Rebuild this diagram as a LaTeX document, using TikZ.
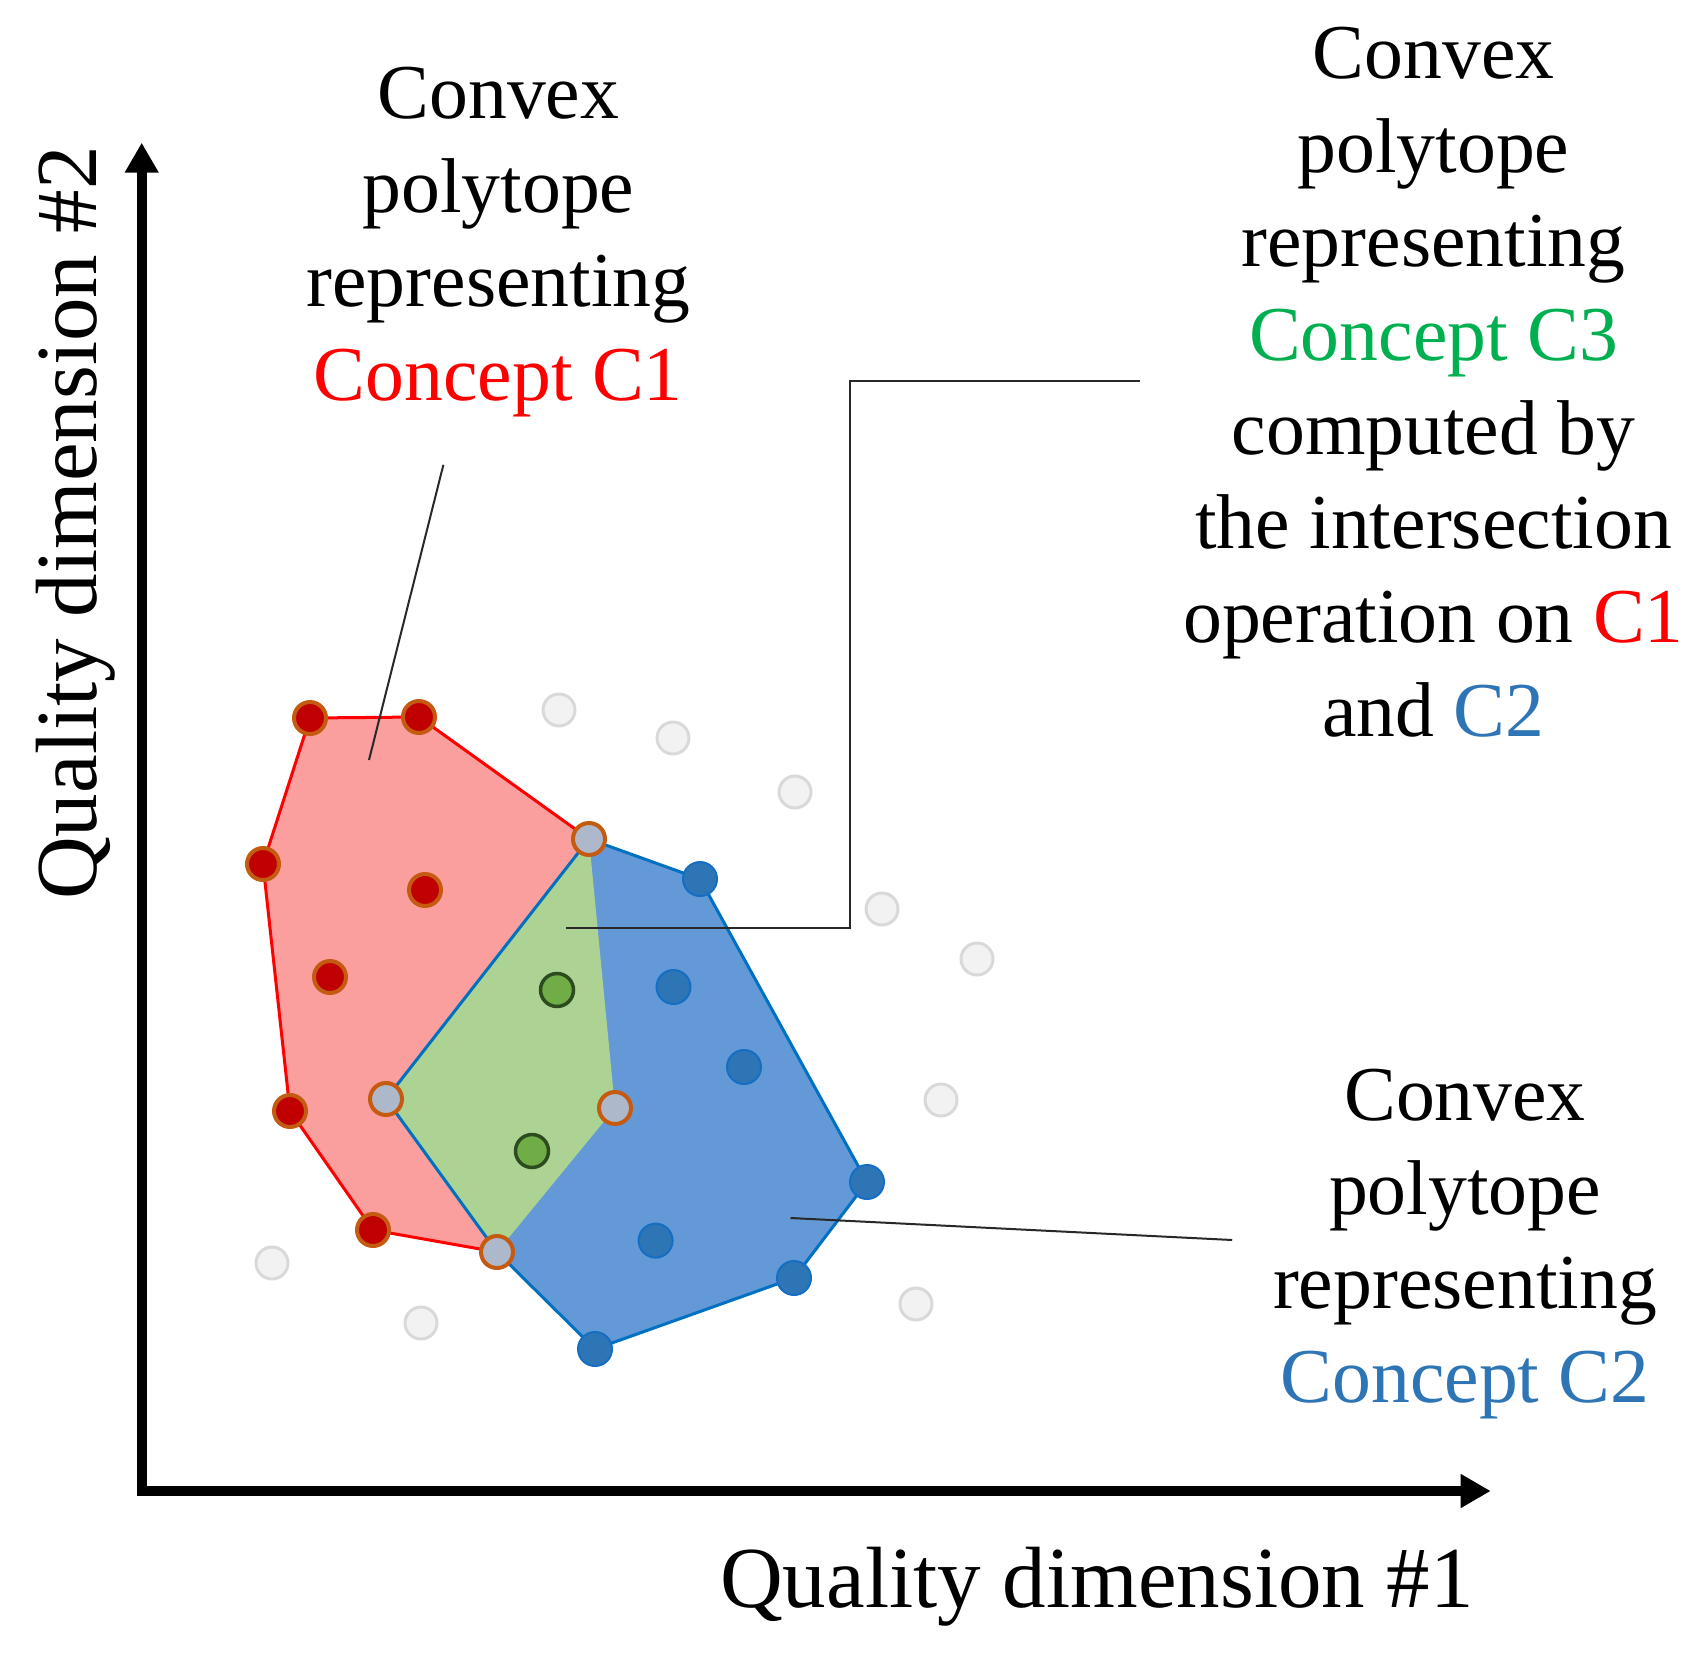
\documentclass[tikz,border=0pt]{standalone}
\usepackage{fontspec}
\setmainfont{Liberation Serif}
\usetikzlibrary{arrows.meta}
\definecolor{cRedTxt}{RGB}{255,0,0}
\definecolor{cGreenTxt}{RGB}{0,176,80}
\definecolor{cBlueTxt}{RGB}{46,117,182}
\definecolor{cRedFill}{RGB}{250,158,158}
\definecolor{cGreenFill}{RGB}{172,210,148}
\definecolor{cBlueFill}{RGB}{100,153,215}
\definecolor{cRedEdge}{RGB}{255,0,0}
\definecolor{cBlueEdge}{RGB}{0,112,192}
\definecolor{cRedDot}{RGB}{192,0,0}
\definecolor{cRing}{RGB}{197,90,17}
\definecolor{cGrayDot}{RGB}{173,185,202}
\definecolor{cBlueDot}{RGB}{46,117,182}
\definecolor{cBlueRing}{RGB}{20,110,195}
\definecolor{cGreenDot}{RGB}{112,173,71}
\definecolor{cGreenRing}{RGB}{45,75,30}
\definecolor{cLight}{RGB}{242,242,242}
\definecolor{cLightRing}{RGB}{217,217,217}
\definecolor{cLeader}{RGB}{40,40,40}
\begin{document}
\begin{tikzpicture}[x=0.02cm,y=-0.02cm,
  dotbase/.style={circle,inner sep=0pt,minimum size=0.64cm},
  reddot/.style={dotbase,fill=cRedDot,draw=cRing,line width=0.08cm},
  graydot/.style={dotbase,fill=cGrayDot,draw=cRing,line width=0.08cm},
  bluedot/.style={dotbase,minimum size=0.68cm,fill=cBlueDot,draw=cBlueRing,line width=0.04cm},
  greendot/.style={dotbase,minimum size=0.66cm,fill=cGreenDot,draw=cGreenRing,line width=0.07cm},
  lightdot/.style={dotbase,minimum size=0.64cm,fill=cLight,draw=cLightRing,line width=0.06cm},
  leader/.style={draw=cLeader,line width=0.04cm},
  bodytxt/.style={align=center,anchor=base,inner sep=0pt,font=\fontsize{44.2}{53.5}\selectfont},
  axistxt/.style={anchor=base,inner sep=0pt,font=\fontsize{49.5}{58}\selectfont},
  axisline/.style={line width=0.2cm,miter limit=10}
]
\useasboundingbox (0,0) rectangle (1706,1662);

% polygon vertices
\coordinate (A) at (310,718);
\coordinate (B) at (419,717);
\coordinate (T) at (589,839);
\coordinate (R) at (615,1108);
\coordinate (Bt) at (497,1252);
\coordinate (E) at (373,1230);
\coordinate (F) at (290,1111);
\coordinate (G) at (263,864);
\coordinate (H) at (700,879);
\coordinate (I) at (867,1182);
\coordinate (J) at (794,1278);
\coordinate (K) at (595,1349);
\coordinate (L) at (386,1099);

% C1 polygon
\fill[cRedFill] (A) -- (B) -- (T) -- (R) -- (Bt) -- (E) -- (F) -- (G) -- cycle;
\draw[cRedEdge,line width=0.06cm,line join=round] (A) -- (B) -- (T) -- (R) -- (Bt) -- (E) -- (F) -- (G) -- cycle;
% C2 polygon
\fill[cBlueFill] (T) -- (H) -- (I) -- (J) -- (K) -- (Bt) -- (L) -- cycle;
% C3 polygon
\fill[cGreenFill] (T) -- (R) -- (Bt) -- (L) -- cycle;
\draw[cBlueEdge,line width=0.06cm,line join=round] (T) -- (H) -- (I) -- (J) -- (K) -- (Bt) -- (L) -- cycle;

% axes
\coordinate (O) at (141.7,1491);
\coordinate (Ytip) at (141.7,142.7);
\coordinate (Xtip) at (1490.7,1491);
\draw[axisline,{Triangle[length=0.6cm,width=0.64cm]}-{Triangle[length=0.6cm,width=0.64cm]}] (Ytip) -- (O) -- (Xtip);

% leader lines
\coordinate (l1a) at (443.4,464.8);
\coordinate (l1b) at (369,760);
\draw[leader] (l1a) -- (l1b);
\coordinate (l3a) at (565.8,928);
\coordinate (l3b) at (850.4,928);
\coordinate (l3c) at (850.4,380.5);
\coordinate (l3d) at (1139.7,380.5);
\draw[leader] (l3a) -- (l3b) -- (l3c) -- (l3d);
\coordinate (l2a) at (790.5,1218);
\coordinate (l2b) at (1232.2,1240);
\draw[leader] (l2a) -- (l2b);

% light gray points
\node[lightdot] (g1) at (559,710) {};
\node[lightdot] (g2) at (673,738) {};
\node[lightdot] (g3) at (795,792) {};
\node[lightdot] (g4) at (882,909) {};
\node[lightdot] (g5) at (977,959) {};
\node[lightdot] (g6) at (941,1100) {};
\node[lightdot] (g7) at (916,1304) {};
\node[lightdot] (g8) at (272,1263) {};
\node[lightdot] (g9) at (421,1323) {};

% red points
\node[reddot] (r1) at (A) {};
\node[reddot] (r2) at (B) {};
\node[reddot] (r3) at (G) {};
\node[reddot] (r4) at (425,890) {};
\node[reddot] (r5) at (330,977) {};
\node[reddot] (r6) at (F) {};
\node[reddot] (r7) at (E) {};

% blue points
\node[bluedot] (b1) at (H) {};
\node[bluedot] (b2) at (673.5,987) {};
\node[bluedot] (b3) at (744,1067) {};
\node[bluedot] (b4) at (I) {};
\node[bluedot] (b5) at (655.6,1240.6) {};
\node[bluedot] (b6) at (J) {};
\node[bluedot] (b7) at (K) {};

% green points
\node[greendot] (e1) at (557,990) {};
\node[greendot] (e2) at (532,1151) {};

% intersection vertices
\node[graydot] (v1) at (T) {};
\node[graydot] (v2) at (L) {};
\node[graydot] (v3) at (R) {};
\node[graydot] (v4) at (Bt) {};

% texts (anchor=base is the baseline of the last line)
\node[bodytxt] (t1) at (498.4,400.1) {Convex\\polytope\\representing\\\textcolor{cRedTxt}{Concept C1}};
\node[bodytxt] (t3) at (1433.5,736.6) {Convex\\polytope\\representing\\\textcolor{cGreenTxt}{Concept C3}\\computed by\\the intersection\\operation on \textcolor{cRedTxt}{C1}\\and \textcolor{cBlueTxt}{C2}};
\node[bodytxt] (t2) at (1465,1402.3) {Convex\\polytope\\representing\\\textcolor{cBlueTxt}{Concept C2}};
\node[axistxt] (ax1) at (1097,1607.4) {Quality dimension \#1};
\node[axistxt,rotate=90] (ax2) at (96.8,523) {Quality dimension \#2};
\end{tikzpicture}
\end{document}
